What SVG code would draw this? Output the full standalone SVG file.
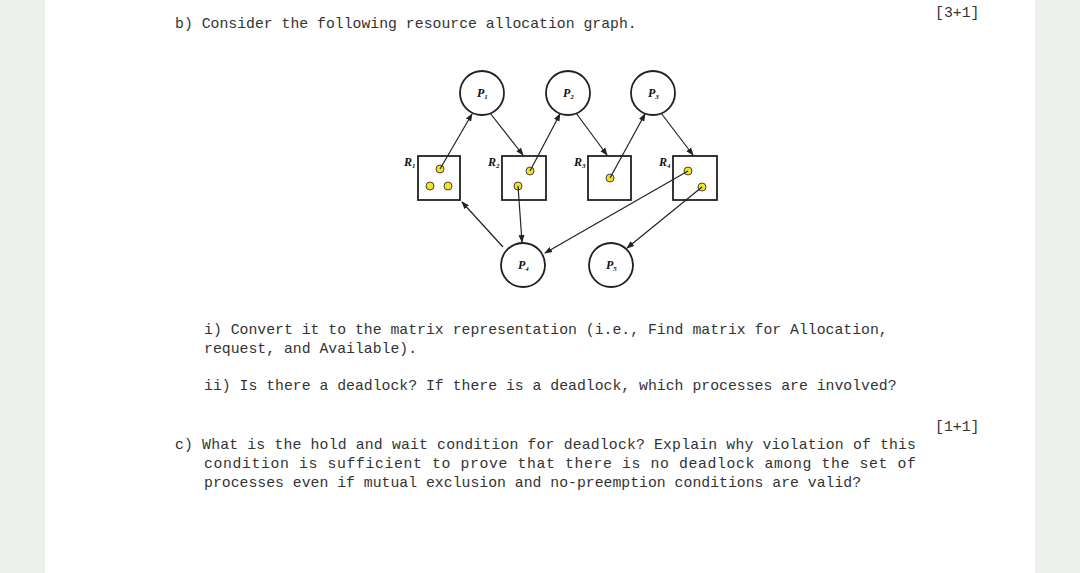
<svg xmlns="http://www.w3.org/2000/svg" width="1080" height="573" viewBox="0 0 1080 573">
<defs><marker id="a" markerWidth="8" markerHeight="8" refX="7" refY="4" orient="auto" markerUnits="userSpaceOnUse"><path d="M0,1 L8,4 L0,7 Z" fill="#222"/></marker></defs>
<style>
.t{font-family:"Liberation Mono",monospace;font-size:14.8px;fill:#333}
.p{fill:#fff;stroke:#222;stroke-width:1.8}
.d{fill:#f2e31c;stroke:#444;stroke-width:1}
.l{font-family:"Liberation Serif",serif;font-style:italic;font-weight:bold;font-size:12px;fill:#111}
.s{font-size:7px}
.e{stroke:#222;stroke-width:1.2;marker-end:url(#a)}
</style>
<rect width="1080" height="573" fill="#eef0ee"/>
<rect x="45" y="0" width="990" height="573" fill="#fff"/>
<text class="t" x="935" y="17">[3+1]</text>
<text class="t" x="175" y="28">b) Consider the following resource allocation graph.</text>
<g id="P1"><circle class="p" cx="482" cy="93" r="22"/><text class="l" x="477" y="97">P<tspan class="s" dy="2">1</tspan></text></g>
<g id="P2"><circle class="p" cx="568" cy="93" r="22"/><text class="l" x="563" y="97">P<tspan class="s" dy="2">2</tspan></text></g>
<g id="P3"><circle class="p" cx="653" cy="93" r="22"/><text class="l" x="648" y="97">P<tspan class="s" dy="2">3</tspan></text></g>
<g id="P4"><circle class="p" cx="523" cy="265" r="22"/><text class="l" x="518" y="269">P<tspan class="s" dy="2">4</tspan></text></g>
<g id="P5"><circle class="p" cx="611" cy="265" r="22"/><text class="l" x="606" y="269">P<tspan class="s" dy="2">5</tspan></text></g>
<g id="R1"><rect class="p" x="418" y="156" width="42" height="44"/><text class="l" x="404" y="166">R<tspan class="s" dy="2">1</tspan></text><circle class="d" cx="440" cy="169" r="4"/><circle class="d" cx="430" cy="186" r="4"/><circle class="d" cx="448" cy="186" r="4"/></g>
<g id="R2"><rect class="p" x="502" y="156" width="44" height="44"/><text class="l" x="488" y="166">R<tspan class="s" dy="2">2</tspan></text><circle class="d" cx="530" cy="171" r="4"/><circle class="d" cx="518" cy="186" r="4"/></g>
<g id="R3"><rect class="p" x="588" y="156" width="43" height="44"/><text class="l" x="574" y="166">R<tspan class="s" dy="2">3</tspan></text><circle class="d" cx="610" cy="178" r="4"/></g>
<g id="R4"><rect class="p" x="673" y="156" width="44" height="44"/><text class="l" x="659" y="166">R<tspan class="s" dy="2">4</tspan></text><circle class="d" cx="688" cy="171" r="4"/><circle class="d" cx="702" cy="187" r="4"/></g>
<g id="connectors">
<line class="e" x1="440" y1="169" x2="472" y2="114"/>
<line class="e" x1="490" y1="113" x2="523" y2="155"/>
<line class="e" x1="530" y1="171" x2="560" y2="114"/>
<line class="e" x1="576" y1="113" x2="607" y2="155"/>
<line class="e" x1="610" y1="178" x2="645" y2="114"/>
<line class="e" x1="661" y1="113" x2="693" y2="155"/>
<line class="e" x1="518" y1="186" x2="522" y2="242"/>
<line class="e" x1="503" y1="247" x2="462" y2="202"/>
<line class="e" x1="688" y1="171" x2="545" y2="253"/>
<line class="e" x1="702" y1="187" x2="627" y2="248"/>
</g>
<text class="t" x="204" y="334">i) Convert it to the matrix representation (i.e., Find matrix for Allocation,</text>
<text class="t" x="204" y="353">request, and Available).</text>
<text class="t" x="204" y="390">ii) Is there a deadlock? If there is a deadlock, which processes are involved?</text>
<text class="t" x="935" y="431">[1+1]</text>
<text class="t" x="175" y="449" textLength="741">c) What is the hold and wait condition for deadlock? Explain why violation of this</text>
<text class="t" x="204" y="468" textLength="712">condition is sufficient to prove that there is no deadlock among the set of</text>
<text class="t" x="204" y="487">processes even if mutual exclusion and no-preemption conditions are valid?</text>
</svg>
